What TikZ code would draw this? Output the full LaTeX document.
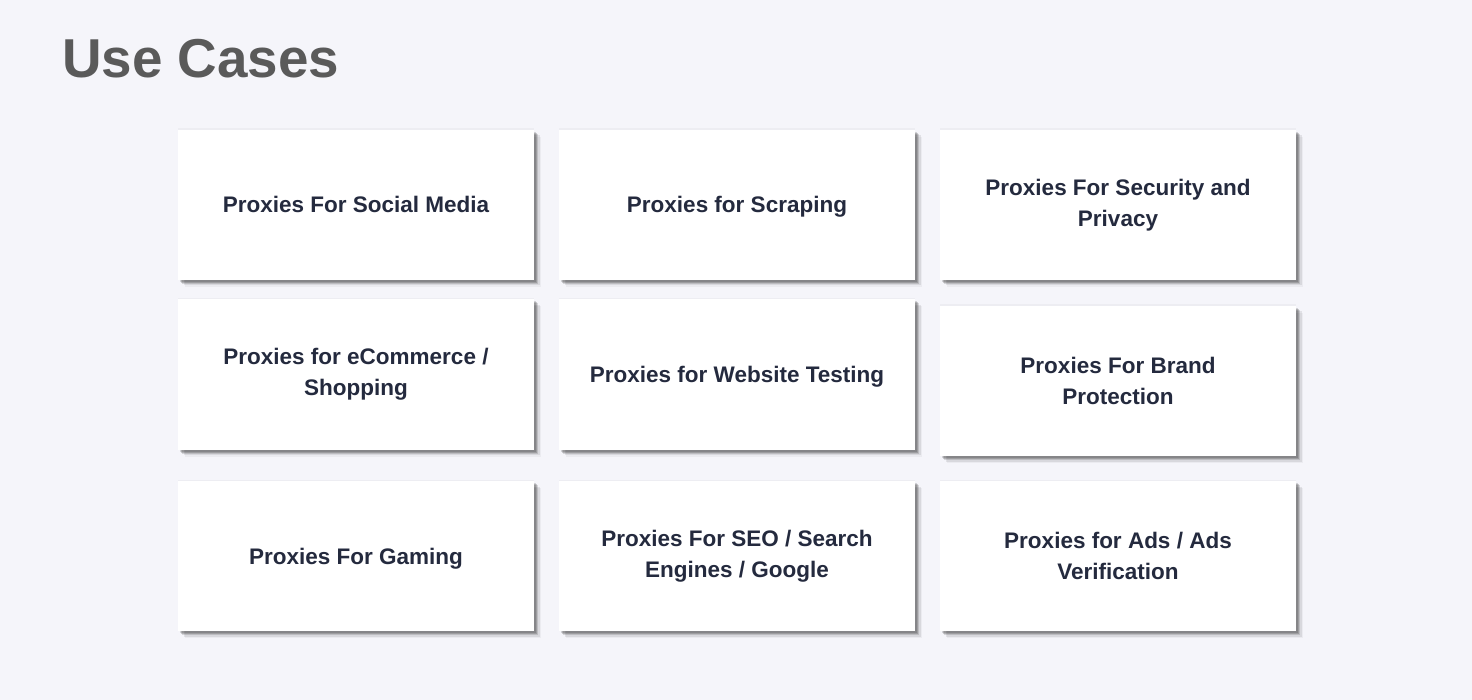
\documentclass[tikz,border=0pt]{standalone}
\usepackage{fontspec}
\setmainfont{Liberation Sans}
\usetikzlibrary{shadows}
\definecolor{bgc}{RGB}{245,245,250}
\definecolor{titlec}{RGB}{90,90,90}
\definecolor{textc}{RGB}{36,42,62}
\tikzset{
  card/.style={fill=white, draw=none, inner sep=0pt, outer sep=0pt,
    minimum width=356pt, minimum height=150pt, align=center,
    text=textc, font=\bfseries\fontsize{22.5}{31}\selectfont,
    general shadow={shadow xshift=7pt, shadow yshift=-7pt, fill=black, opacity=0.04},
    general shadow={shadow xshift=5.5pt, shadow yshift=-5.5pt, fill=black, opacity=0.08},
    general shadow={shadow xshift=4pt, shadow yshift=-4pt, fill=black, opacity=0.13},
    general shadow={shadow xshift=3pt, shadow yshift=-3pt, fill=black, opacity=0.17},
    general shadow={shadow xshift=2pt, shadow yshift=-2pt, fill=black, opacity=0.14},
    general shadow={shadow xshift=0pt, shadow yshift=1.5pt, fill=black, opacity=0.03}},
  one/.style={text height=18pt, text depth=2pt},
  titletext/.style={anchor=base west, inner sep=0pt, text=titlec,
    font=\bfseries\fontsize{54.8}{60}\selectfont}
}
\begin{document}
\begin{tikzpicture}[x=1pt,y=-1pt]
\fill[bgc] (0,0) rectangle (1472,700);
\useasboundingbox (0,0) rectangle (1472,700);
\node[titletext] (title) at (62,78) {Use Cases};
\node[card,one] (a1) at (356,205) {Proxies For Social Media};
\node[card,one] (a2) at (737,205) {Proxies for Scraping};
\node[card] (a3) at (1118,205) {Proxies For Security and\\Privacy};
\node[card] (b1) at (356,374.5) {Proxies for eCommerce /\\Shopping};
\node[card,one] (b2) at (737,374.5) {Proxies for Website Testing};
\node[card] (b3) at (1118,381) {Proxies For Brand\\Protection};
\node[card,one] (c1) at (356,556) {Proxies For Gaming};
\node[card] (c2) at (737,556) {Proxies For SEO / Search\\Engines / Google};
\node[card] (c3) at (1118,556) {Proxies for Ads / Ads\\Verification};
\end{tikzpicture}
\end{document}
